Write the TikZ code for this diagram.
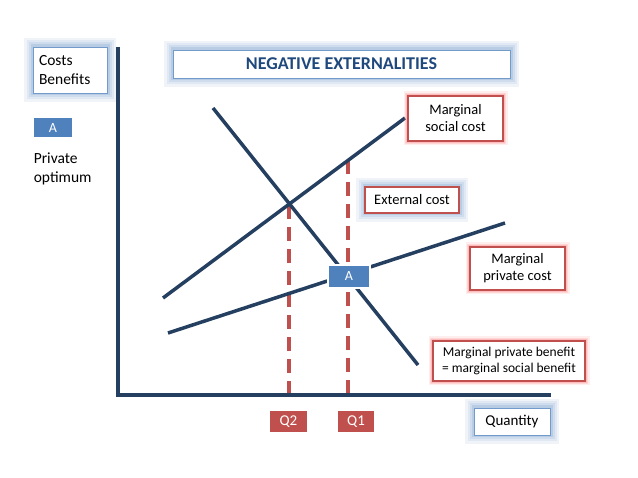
\documentclass[tikz,border=0pt]{standalone}
\usepackage{fontspec}
\setmainfont{Carlito}
\usetikzlibrary{positioning}
\definecolor{navy}{HTML}{243F60}
\definecolor{boxred}{HTML}{C0504D}
\definecolor{boxblue}{HTML}{4F81BD}
\definecolor{titleblue}{HTML}{1F497D}
\begin{document}
\begin{tikzpicture}[x=1pt, y=-1pt, every node/.style={font=\fontsize{14.5}{17}\selectfont, align=center, inner sep=0pt},
  blueglow/.style={draw=boxblue!80, line width=0.8pt, fill=white, rectangle,
    preaction={draw=boxblue!70, line width=18pt, opacity=0.12},
    preaction={draw=boxblue!70, line width=13pt, opacity=0.15},
    preaction={draw=boxblue!70, line width=9pt, opacity=0.2},
    preaction={draw=boxblue!70, line width=5pt, opacity=0.3}},
  redglow/.style={draw=boxred, line width=1.5pt, fill=white, rectangle,
    preaction={draw=red!45, line width=9pt, opacity=0.15},
    preaction={draw=red!45, line width=6pt, opacity=0.25},
    preaction={draw=red!45, line width=3.5pt, opacity=0.35}},
  tag/.style={fill=boxblue, draw=white, line width=1.5pt, text=white, font=\fontsize{14}{16}\selectfont, minimum width=40pt, minimum height=22pt},
  qtag/.style={fill=boxred, draw=white, line width=1.5pt, text=white, font=\fontsize{15}{17}\selectfont, minimum width=38pt, minimum height=22pt},
  curve/.style={navy, line width=3.5pt},
  guide/.style={boxred, line width=3.5pt, dash pattern=on 14pt off 8pt}]
  \useasboundingbox (0,0) rectangle (638,478);
  % Points on the curves
  \coordinate (mscL) at (163,298);
  \coordinate (mscR) at (405,118);
  \coordinate (mpcL) at (168,333);
  \coordinate (mpcR) at (505,223);
  \coordinate (mpbL) at (213,108);
  \coordinate (mpbR) at (418,365);
  \coordinate (origin) at (118,395);
  \coordinate (ytop) at (118,47);
  \coordinate (xend) at (551,395);
  \coordinate (soc) at (289,205);
  \coordinate (priv) at (348,160);
  \coordinate (q2foot) at (289,393);
  \coordinate (q1foot) at (348,393);
  % Guides and curves
  \draw[guide] (soc) -- (q2foot);
  \draw[guide] (priv) -- (q1foot);
  \draw[curve] (mscL) -- (mscR);
  \draw[curve] (mpcL) -- (mpcR);
  \draw[curve] (mpbL) -- (mpbR);
  \draw[navy, line width=4.5pt] (ytop) -- (origin) -- (xend);
  % Labels
  \node[blueglow, text width=62pt, inner xsep=6pt, minimum height=46pt, align=left, font=\fontsize{15.5}{18.5}\selectfont] (costs) at (70,70) {Costs\\Benefits};
  \node[tag, minimum width=39pt, minimum height=21pt, below=23pt of costs.south west, anchor=north west] (legend) {A};
  \node[align=left, below=14pt of legend.south west, anchor=north west, xshift=1pt, font=\fontsize{15.5}{18.5}\selectfont] (optimum) {Private\\optimum};
  \node[blueglow, minimum width=337pt, minimum height=28pt, font=\fontsize{18}{20}\selectfont\bfseries, text=titleblue] (title) at (341.5,64) {NEGATIVE EXTERNALITIES};
  \node[redglow, minimum width=95pt, minimum height=45pt] (msc) at (455.5,118.5) {Marginal\\social cost};
  \node[blueglow, draw=boxred, line width=1.2pt, minimum width=94pt, minimum height=26pt] (ext) at (412,200) {External cost};
  \node[tag, minimum width=42pt, minimum height=23pt] (pointA) at (349,276.5) {A};
  \node[redglow, minimum width=95pt, minimum height=43pt] (mpc) at (517.5,268.5) {Marginal\\private cost};
  \node[redglow, minimum width=152pt, minimum height=40pt, font=\fontsize{13.5}{16.5}\selectfont] (mpb) at (509,361) {Marginal private benefit\\= marginal social benefit};
  \node[qtag] (q2) at (288.5,421.5) {Q2};
  \node[qtag, right=28pt of q2] (q1) {Q1};
  \node[blueglow, minimum width=76pt, minimum height=27pt, font=\fontsize{15}{17}\selectfont] (qty) at (512,421.5) {Quantity};
\end{tikzpicture}
\end{document}
